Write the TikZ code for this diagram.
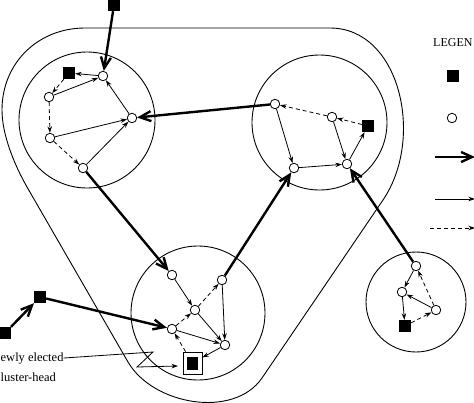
\documentclass[tikz,border=0pt]{standalone}
\usepackage{fontspec}
\setmainfont{Liberation Serif}
\usetikzlibrary{arrows.meta}
\begin{document}
\begin{tikzpicture}[x=1pt,y=-1pt,
  host/.style={circle, draw, fill=white, line width=0.8pt, minimum size=9.5pt, inner sep=0pt},
  chead/.style={rectangle, fill=black, minimum size=12pt, inner sep=0pt},
  cluster/.style={line width=0.9pt},
  thickarrow/.style={line width=2.4pt, -{Straight Barb[length=11pt,width=10pt]}},
  thinarrow/.style={line width=0.8pt, -{Stealth[length=6.5pt,width=4.5pt]}},
  dasharrow/.style={thinarrow, dash pattern=on 4pt off 3pt},
  lbl/.style={anchor=base west, inner sep=0pt, font=\fontsize{12.5}{14}\selectfont}]
\useasboundingbox (0,0) rectangle (474,402);

% outer boundary
\draw[cluster] (85,28) -- (330,28) .. controls (400,28) and (425,138) .. (383,200)
  -- (262,378) .. controls (233.8,419) and (153,405) .. (128,362)
  -- (27,187) .. controls (14.5,165) and (2,135) .. (2,110)
  .. controls (2,63) and (38,28) .. (85,28) -- cycle;

% cluster circles
\draw[cluster] (87,120) circle[radius=68];
\draw[cluster] (319.5,122.5) circle[radius=67.5];
\draw[cluster] (198,313) circle[radius=67];
\draw[cluster] (416,302) circle[radius=50];

% top-left cluster
\node[chead] (sa) at (69,73) {};
\node[host] (a1) at (103,76) {};
\node[host] (a2) at (49,97) {};
\node[host] (a3) at (50,138) {};
\node[host] (a4) at (83,168) {};
\node[host] (a5) at (132,118) {};
\node[chead] (s0) at (114,5) {};

% top-right cluster
\node[host] (b1) at (275,104) {};
\node[host] (b2) at (332,117) {};
\node[chead] (sb) at (368,126) {};
\node[host] (b3) at (294,168) {};
\node[host] (b4) at (347,164) {};

% bottom cluster
\node[host] (c1) at (172,275) {};
\node[host] (c2) at (222,280) {};
\node[host] (c3) at (195,310) {};
\node[host] (c4) at (172,329) {};
\node[host] (c5) at (225,345) {};
\node[rectangle, draw, line width=0.8pt, minimum width=19pt, minimum height=22pt, inner sep=0pt] (ch) at (192.5,363) {};
\node[rectangle, fill=black, minimum width=11pt, minimum height=13pt, inner sep=0pt] (chin) at (ch) {};

% bottom-right cluster
\node[host] (d1) at (416,266) {};
\node[host] (d2) at (402,292) {};
\node[host] (d3) at (436,310) {};
\node[chead] (sd) at (405,326) {};

% left squares
\node[chead] (e1) at (5,333) {};
\node[chead] (e2) at (40,297) {};

% edges top-left
\draw[thinarrow] (a1) -- (sa);
\draw[dasharrow] (sa) -- (a2);
\draw[thinarrow] (a2) -- (a1);
\draw[dasharrow] (a2) -- (a3);
\draw[dasharrow] (a3) -- (a4);
\draw[thinarrow] (a3) -- (a5);
\draw[thinarrow] (a4) -- (a5);
\draw[thinarrow] (a5) -- (a1);

% edges top-right
\draw[dasharrow] (b2) -- (b1);
\draw[dasharrow] (sb) -- (b2);
\draw[thinarrow] (b1) -- (b3);
\draw[thinarrow] (b2) -- (b4);
\draw[thinarrow] (b3) -- (b4);
\draw[thinarrow] (b4) -- (sb);

% edges bottom
\draw[thinarrow] (c1) -- (c3);
\draw[dasharrow] (c3) -- (c2);
\draw[dasharrow] (c4) -- (c3);
\draw[thinarrow] (c3) -- (c5);
\draw[thinarrow] (c2) -- (c5);
\draw[thinarrow] (c4) -- (c5);
\draw[thinarrow] (c5) -- (ch);
\draw[dasharrow] (ch) -- (c4);

% edges bottom-right
\draw[thinarrow] (d1) -- (d2);
\draw[dasharrow] (d3) -- (d1);
\draw[thinarrow] (d3) -- (d2);
\draw[thinarrow] (d2) -- (sd);
\draw[dasharrow] (sd) -- (d3);

% inter-cluster links
\draw[thickarrow] (s0) -- (a1);
\draw[thickarrow] (b1) -- (a5);
\draw[thickarrow] (a4) -- (c1);
\draw[thickarrow] (c2) -- (b3);
\draw[thickarrow] (d1) -- (b4);
\draw[thickarrow] (e1) -- (e2);
\draw[thickarrow] (e2) -- (c4);

% annotation (as cut in the reference)
\node[lbl] (t1) at (0.5,361) {ewly elected};
\node[lbl] (t2) at (0.5,381) {luster-head};
\coordinate (z1) at (153,352);
\coordinate (z2) at (137,367);
\coordinate (z3) at (178,366);
\draw[thinarrow] (t1.east) -- (z1) -- (z2) -- (z3);

% legend
\node[lbl, font=\fontsize{12}{14}\selectfont] (lg) at (433,46) {LEGEN};
\node[chead] (lgs) at (453,76) {};
\node[host] (lgc) at (452,118) {};
\coordinate (l1a) at (435,157);
\coordinate (l1b) at (475,157);
\coordinate (l2a) at (435,199);
\coordinate (l2b) at (475,199);
\coordinate (l3a) at (430,228);
\coordinate (l3b) at (475,228);
\draw[thickarrow] (l1a) -- (l1b);
\draw[thinarrow] (l2a) -- (l2b);
\draw[dasharrow] (l3a) -- (l3b);
\end{tikzpicture}
\end{document}
